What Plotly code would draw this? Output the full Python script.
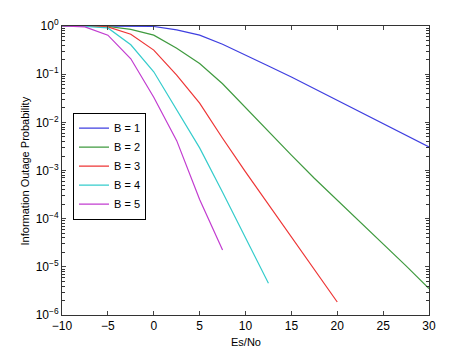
import plotly.graph_objects as go

es_no = [-10, -7.5, -5, -2.5, 0, 2.5, 5, 7.5, 10, 12.5, 15, 17.5, 20, 22.5, 25, 27.5, 30]

# log10 of outage probability
log_b1 = [0, 0, 0, 0, -0.01, -0.08, -0.19, -0.38, -0.60, -0.83, -1.06, -1.30, -1.55, -1.78, -2.02, -2.26, -2.51]
log_b2 = [0, 0, -0.01, -0.07, -0.19, -0.46, -0.78, -1.20, -1.70, -2.18, -2.68, -3.16, -3.61, -4.07, -4.53, -4.98, -5.45]
log_b3 = [0, 0, -0.02, -0.17, -0.50, -1.02, -1.60, -2.33, -3.03, -3.71, -4.39, -5.07, -5.73]
log_b4 = [0, -0.01, -0.04, -0.39, -0.95, -1.74, -2.53, -3.45, -4.41, -5.34]
log_b5 = [0, -0.02, -0.19, -0.68, -1.48, -2.38, -3.60, -4.65]

series = [
    ("B = 1", log_b1, "#3f3fe0"),
    ("B = 2", log_b2, "#3f9a3f"),
    ("B = 3", log_b3, "#ee3535"),
    ("B = 4", log_b4, "#35cccc"),
    ("B = 5", log_b5, "#c23cd0"),
]

y_tickvals = [1, 1e-1, 1e-2, 1e-3, 1e-4, 1e-5, 1e-6]
y_ticktext = ["10<sup>0</sup>", "10<sup>−1</sup>", "10<sup>−2</sup>", "10<sup>−3</sup>",
              "10<sup>−4</sup>", "10<sup>−5</sup>", "10<sup>−6</sup>"]
x_tickvals = [-10, -5, 0, 5, 10, 15, 20, 25, 30]
x_title = "Es/No"
y_title = "Information Outage Probability"

fig = go.Figure()
for name, logs, color in series:
    fig.add_trace(go.Scatter(
        x=es_no[:len(logs)], y=[10 ** v for v in logs], mode="lines", name=name,
        line=dict(color=color, width=1.2)))

font = "Liberation Sans, Arial, Helvetica, sans-serif"
fig.update_layout(
    width=474, height=355,
    margin=dict(l=62, r=45, t=26, b=40),
    paper_bgcolor="white", plot_bgcolor="white",
    font=dict(family=font, size=12, color="black"),
    showlegend=True,
    legend=dict(x=0.03, y=0.70, xanchor="left", yanchor="top",
                bgcolor="white", bordercolor="black", borderwidth=1,
                font=dict(size=11), tracegroupgap=0, itemwidth=30),
    xaxis=dict(range=[-10, 30], tickvals=x_tickvals, ticks="inside", ticklen=4,
               showline=True, linecolor="#333", linewidth=1, mirror="ticks",
               showgrid=False, zeroline=False, automargin=False,
               tickfont=dict(size=12)),
    yaxis=dict(type="log", range=[-6, 0], tickvals=y_tickvals, ticktext=y_ticktext,
               ticks="inside", ticklen=4, showline=True, linecolor="#333", linewidth=1,
               mirror="ticks", showgrid=False, zeroline=False, automargin=False,
               minor=dict(ticks="inside", ticklen=3, dtick="D1", showgrid=False, tickcolor="#333"),
               tickfont=dict(size=12)),
    annotations=[
        dict(text=x_title, xref="paper", yref="paper", x=0.5, y=-0.093,
             xanchor="center", yanchor="middle", showarrow=False, font=dict(size=11)),
        dict(text=y_title, xref="paper", yref="paper", x=-0.101, y=0.5,
             xanchor="center", yanchor="middle", textangle=-90, showarrow=False,
             font=dict(size=11)),
    ],
)

fig.write_html("out.html")
